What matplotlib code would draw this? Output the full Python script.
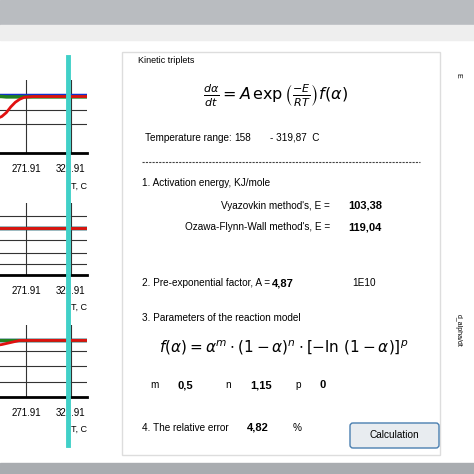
import matplotlib
matplotlib.use("Agg")
import matplotlib.pyplot as plt
from matplotlib.patches import Rectangle, FancyBboxPatch

plt.rcParams['font.family'] = ['Liberation Sans', 'DejaVu Sans']
W = H = 474
T = [150, 200, 230, 245, 250, 255, 260, 265, 270, 280, 300, 321.91, 340]
top_blue = [1.0]*13
top_green = [0.98, 0.98, 0.98, 0.97, 0.96, 0.96, 0.96, 0.96, 0.96, 0.96, 0.96, 0.96, 0.96]
top_red = [0.0, 0.1, 0.3, 0.45, 0.55, 0.7, 0.82, 0.9, 0.95, 0.97, 0.97, 0.97, 0.97]
mid_blue = [0.0]*13
mid_green = [0.0]*13
mid_red = [0.0]*13
bot_blue = [0.0]*13
bot_green = [0.0]*13
bot_red = [-0.1, -0.08, -0.06, -0.04, -0.03, -0.02, -0.01, 0.0, 0.0, 0.0, 0.0, 0.0, 0.0]
xticks = [271.91, 321.91]

fig = plt.figure(figsize=(4.74, 4.74), dpi=100)
fig.patch.set_facecolor("white")

def px(x0, y0, x1, y1):
    return [x0/W, 1-y1/H, (x1-x0)/W, (y1-y0)/H]

bg = fig.add_axes([0, 0, 1, 1]); bg.set_xlim(0, W); bg.set_ylim(H, 0); bg.axis("off")
bg.add_patch(Rectangle((0, 0), W, 25, color="#b9bcc0"))
bg.add_patch(Rectangle((0, 25), W, 15, color="#eeeeee"))
bg.add_patch(Rectangle((0, 463), W, 11, color="#a9acb0"))
bg.add_patch(Rectangle((122, 52), 318, 403, fill=False, ec="#dddddd", lw=1))

x0p = -90; x1p = 87
xmin = 321.91 - (71 - x0p) / 45 * 50
xmax = 321.91 + (x1p - 71) / 45 * 50
panels = [
    (80, 153, top_blue, top_green, top_red, (-0.5, 1.4), [0.25, 0.625, 1.0]),
    (203, 275, mid_blue, mid_green, mid_red, (-0.65, 0.35), [-0.5, -0.34, -0.17, 0.0, 0.17]),
    (325, 397, bot_blue, bot_green, bot_red, (-0.55, 0.15), [-0.4, -0.25, -0.1, 0.0]),
]
for (ya, yb, b, g, r, yl, yt) in panels:
    ax = fig.add_axes(px(x0p, ya, x1p, yb))
    ax.plot(T, b, color="#1030d0", lw=2.5)
    ax.plot(T, g, color="#208020", lw=2.5)
    ax.plot(T, r, color="#e01010", lw=2)
    ax.set_xlim(xmin, xmax); ax.set_ylim(*yl)
    ax.set_xticks(xticks); ax.set_xticklabels(["271.91", "321.91"], fontsize=7)
    ax.set_yticks(yt); ax.set_yticklabels([])
    ax.grid(True, color="#333333", lw=0.8)
    for s in ["top", "right", "left"]:
        ax.spines[s].set_visible(False)
    ax.spines["bottom"].set_linewidth(2)
    ax.tick_params(length=0, pad=8)
    ax.text(1.0, -0.45, "T, C", transform=ax.transAxes, fontsize=6.5, ha="right", va="center")

ov = fig.add_axes([0, 0, 1, 1]); ov.set_xlim(0, W); ov.set_ylim(H, 0); ov.axis("off")
ov.plot([68, 68], [57, 445], color="#40d0c8", lw=3.5)

fs = 7.2
fb = 8
bg.text(138, 60, "Kinetic triplets", fontsize=6.5, va="center")
bg.text(275, 95, r"$\frac{d\alpha}{dt} = A\,\exp\left(\frac{-E}{RT}\right)f(\alpha)$", fontsize=11.5, ha="center", va="center")
bg.text(145, 138, "Temperature range:", fontsize=fs, va="center")
bg.text(234, 138, "158", fontsize=fs, va="center")
bg.text(270, 138, "- 319,87  C", fontsize=fs, va="center")
bg.plot([142, 420], [162, 162], color="#444444", lw=0.8, ls=(0, (2, 1)))
bg.text(142, 183, "1. Activation energy, KJ/mole", fontsize=fs, va="center")
bg.text(330, 206, "Vyazovkin method's, E =", fontsize=fs, ha="right", va="center")
bg.text(348, 206, "103,38", fontsize=fb, weight="bold", va="center")
bg.text(330, 227, "Ozawa-Flynn-Wall method's, E =", fontsize=fs, ha="right", va="center")
bg.text(348, 227, "119,04", fontsize=fb, weight="bold", va="center")
bg.text(142, 283, "2. Pre-exponential factor, A =", fontsize=fs, va="center")
bg.text(272, 283, "4,87", fontsize=fb, weight="bold", va="center")
bg.text(352, 283, "1E10", fontsize=fs, va="center")
bg.text(142, 318, "3. Parameters of the reaction model", fontsize=fs, va="center")
bg.text(284, 348, r"$f(\alpha) = \alpha^m \cdot (1-\alpha)^n \cdot [-\ln\,(1-\alpha)]^p$", fontsize=11, ha="center", va="center")
bg.text(150, 385, "m", fontsize=fs, va="center")
bg.text(178, 385, "0,5", fontsize=fb, weight="bold", va="center")
bg.text(225, 385, "n", fontsize=fs, va="center")
bg.text(250, 385, "1,15", fontsize=fb, weight="bold", va="center")
bg.text(295, 385, "p", fontsize=fs, va="center")
bg.text(320, 385, "0", fontsize=fb, weight="bold", va="center")
bg.text(142, 428, "4. The relative error", fontsize=fs, va="center")
bg.text(247, 428, "4,82", fontsize=fb, weight="bold", va="center")
bg.text(293, 428, "%", fontsize=fs, va="center")
bg.add_patch(FancyBboxPatch((350, 423), 89, 25, boxstyle="round,pad=0,rounding_size=3",
                            fc="#e8ecf0", ec="#4a7fb0", lw=1))
bg.text(394.5, 435.5, "Calculation", fontsize=fs, ha="center", va="center")
bg.text(458, 75, "E", fontsize=5, rotation=270, ha="center", va="center")
bg.text(458, 330, "d_alpha/dt", fontsize=5, rotation=270, ha="center", va="center")

fig.savefig("out.png", dpi=100)
